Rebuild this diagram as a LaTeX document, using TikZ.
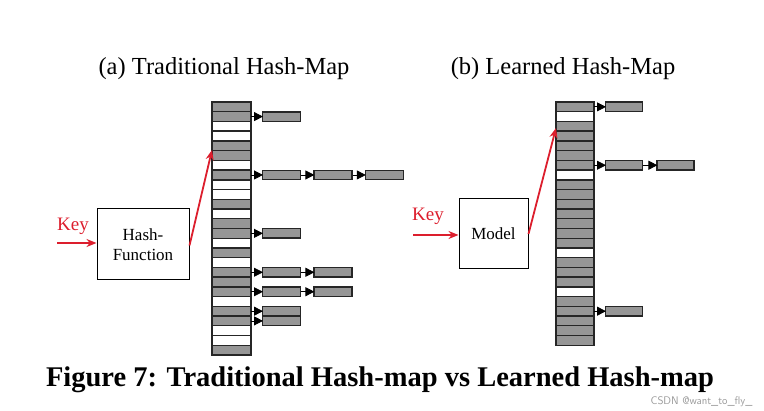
\documentclass[tikz,border=0pt]{standalone}
\usepackage{fontspec}
\setmainfont{Liberation Serif}
\usetikzlibrary{arrows.meta}
\definecolor{slotg}{RGB}{150,150,150}
\definecolor{keyred}{RGB}{220,30,45}
\begin{document}
\begin{tikzpicture}[x=1pt,y=-1pt,
  g/.style={draw=black!85,line width=1.4pt,fill=slotg},
  w/.style={draw=black!85,line width=1.4pt,fill=white},
  ch/.style={draw=black!85,line width=1.4pt,fill=slotg,minimum width=38pt,minimum height=9.5pt,inner sep=0pt,anchor=west},
  ln/.style={-{Triangle[length=9pt,width=9pt]},line width=0.8pt,shorten >=-1pt},
  red/.style={-{Stealth[length=10pt,width=8pt]},draw=keyred,line width=1.8pt},
  box/.style={draw=black,line width=1pt,fill=white,align=center,font=\fontsize{17}{19}\selectfont,inner sep=0pt},
  ttl/.style={font=\fontsize{24.5}{28}\selectfont}]
\useasboundingbox (0,0) rectangle (764,411);
% left column
\def\lpat{{1,1,0,0,1,1,0,1,0,0,1,0,1,1,0,1,0,1,1,1,0,1,1,0,0,1}}
\foreach \i in {0,...,25}{
  \pgfmathsetmacro\v{\lpat[\i]}
  \pgfmathsetmacro\yy{102+\i*9.73}
  \ifdim\v pt>0.5pt
    \path[g] (212,\yy) rectangle (251,\yy+9.73);
  \else
    \path[w] (212,\yy) rectangle (251,\yy+9.73);
  \fi
  \coordinate (L\i) at (251,\yy+4.86);
}
% right column
\def\rpat{{1,0,1,1,1,1,1,0,1,1,1,1,1,1,1,0,1,1,1,0,1,1,1,1,1}}
\foreach \i in {0,...,24}{
  \pgfmathsetmacro\v{\rpat[\i]}
  \pgfmathsetmacro\yy{102+\i*9.73}
  \ifdim\v pt>0.5pt
    \path[g] (556,\yy) rectangle (594,\yy+9.73);
  \else
    \path[w] (556,\yy) rectangle (594,\yy+9.73);
  \fi
  \coordinate (R\i) at (594,\yy+4.86);
}
% left chains
\foreach \s/\n in {1/1,7/3,13/1,17/2,19/2,21/1,22/1}{
  \node[ch] (a\s) at ([xshift=11pt]L\s) {};
  \draw[ln] (L\s) -- (a\s.west);
  \ifnum\n>1
    \node[ch] (b\s) at ([xshift=12pt]a\s.east) {};
    \draw[ln] (a\s.east) -- (b\s.west);
  \fi
  \ifnum\n>2
    \node[ch] (c\s) at ([xshift=12pt]b\s.east) {};
    \draw[ln] (b\s.east) -- (c\s.west);
  \fi
}
% right chains
\foreach \s/\n in {0/1,6/2,21/1}{
  \node[ch,minimum width=37pt] (ra\s) at ([xshift=11pt]R\s) {};
  \draw[ln] (R\s) -- (ra\s.west);
  \ifnum\n>1
    \node[ch,minimum width=37pt] (rb\s) at ([xshift=13pt]ra\s.east) {};
    \draw[ln] (ra\s.east) -- (rb\s.west);
  \fi
}
% boxes
\node[box,minimum width=92pt,minimum height=71pt] (hf) at (143,244.5) {Hash-\\[1pt]Function};
\node[box,minimum width=69pt,minimum height=70pt] (md) at (493.5,234) {Model};
\coordinate (lt) at (212,150);
\coordinate (rt) at (556,128);
\draw[red] (hf.east) ++(0,1) -- (lt);
\draw[red] (md.east) -- (rt);
\node[text=keyred,font=\fontsize{19}{22}\selectfont] (k1) at (73,226) {Key};
\coordinate (k1s) at (57,243);
\draw[red] (k1s) -- (hf.west |- k1s);
\node[text=keyred,font=\fontsize{19}{22}\selectfont] (k2) at (428,216) {Key};
\coordinate (k2s) at (413,235);
\draw[red] (k2s) -- (md.west |- k2s);
% titles
\node[ttl] (t1) at (224,69) {(a) Traditional Hash-Map};
\node[ttl] (t2) at (563,69) {(b) Learned Hash-Map};
\node[font=\bfseries\fontsize{28.5}{32}\selectfont] (cap) at (380,380) {Figure 7: Traditional Hash-map vs Learned Hash-map};
\node[text=black!40,font=\fontsize{11}{13}\selectfont\sffamily,anchor=east] (wm) at (756,402) {CSDN @want\_to\_fly\_};
\end{tikzpicture}
\end{document}
